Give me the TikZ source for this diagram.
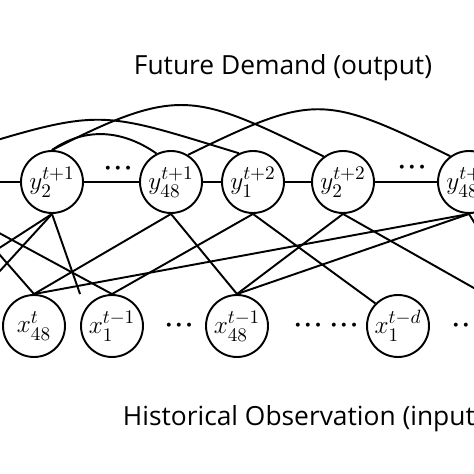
\documentclass[tikz,border=0pt]{standalone}
\usepackage{amsmath,amssymb}
\usepackage{fontspec}
\setmainfont{Open Sans}
\usepackage{tikz}
\usetikzlibrary{calc}
\newcommand{\dotrow}{$\boldsymbol{{\cdotp}\mkern1.3mu{\cdotp}\mkern1.3mu{\cdotp}}$}

\begin{document}
\begin{tikzpicture}[x=0.02cm, y=0.02cm, line width=1.1pt,
    every node/.style={font=\fontsize{15.5}{18}\selectfont},
    unit/.style={circle, draw, fill=white, minimum size=1.24cm, inner sep=0pt},
    heading/.style={font=\fontsize{15}{18}\selectfont, inner sep=0pt}]

  \useasboundingbox (0,0) rectangle (474,474);
  \clip (0,0) rectangle (474,474);

  % ========== OUTPUT LAYER ==========
  \node[unit] (y1t1) at (-36,292) {};
  \foreach \n/\x/\lab in {y2t1/52/{y_2^{t+1}}, y48t1/171/{y_{48}^{t+1}},
                         y1t2/253/{y_1^{t+2}}, y2t2/343/{y_2^{t+2}}, y48t2/469/{y_{48}^{t+2}}}{
    \node[unit] (\n) at (\x,292) {$\lab$};
  }
  \node (ydotsA) at (118,305) {\dotrow};
  \node (ydotsB) at (412,306) {\dotrow};

  % ========== INPUT LAYER ==========
  \foreach \n/\x/\lab in {x48t/34/{x_{48}^{t}}, x1tm1/112/{x_1^{t-1}},
                         x48tm1/237/{x_{48}^{t-1}}, x1td/398/{x_1^{t-d}}}{
    \node[unit] (\n) at (\x,148) {$\lab$};
  }
  \node (xdotsA) at (179,148) {\dotrow};
  \node (xdotsB) at (308,148) {\dotrow};
  \node (xdotsC) at (344,148) {\dotrow};
  \node (xdotsD) at (466,148) {\dotrow};

  % Off-canvas ends
  \coordinate (offL1) at (-75,178);
  \coordinate (offL2) at (-23,178);
  \coordinate (offR1) at (488,178);
  \coordinate (offR2) at (520,178);

  % Chain of outputs
  \foreach \a/\b in {y1t1/y2t1, y2t1/y48t1, y48t1/y1t2, y1t2/y2t2, y2t2/y48t2}
    \draw (\a) -- (\b);

  % Arcs over the outputs
  \draw (y1t1.north) to[out=17, in=163, looseness=1.35] (y1t2.116);
  \draw (y2t1.north) to[out=27, in=154, looseness=1.35] (y2t2.127);
  \draw (y2t1.north) to[out=35, in=145, looseness=1] (y48t1.117);
  \draw (y48t1.58) to[out=26, in=154, looseness=1.37] (y48t2.126);

  % Links between the layers
  \foreach \a/\b in {y1t1.south/x48t.north, y1t1.south/x1tm1.north,
                     x48t.north/y48t1.south, x48t.north/y48t2.south,
                     x1tm1.north/y1t2.south, y48t1.south/x48tm1.north,
                     y2t2.south/x48tm1.north, x48tm1.north/y48t2.south,
                     y1t2.south/x1td.north west}
    \draw (\a) -- (\b);
  \draw (y2t1.south) -- (x1tm1.west |- x1tm1.north);
  \draw (y2t1.south) -- (offL1);
  \draw (y2t1.south) -- (offL2);
  \draw (y2t2.south) -- (offR1);
  \draw (y48t2.south) -- (offR2);

  % Labels
  \node[heading, anchor=base] (outlab) at (283,399) {Future Demand (output)};
  \node[heading, anchor=base west] (inlab) at (122,49) {Historical Observation (input)};

\end{tikzpicture}
\end{document}
